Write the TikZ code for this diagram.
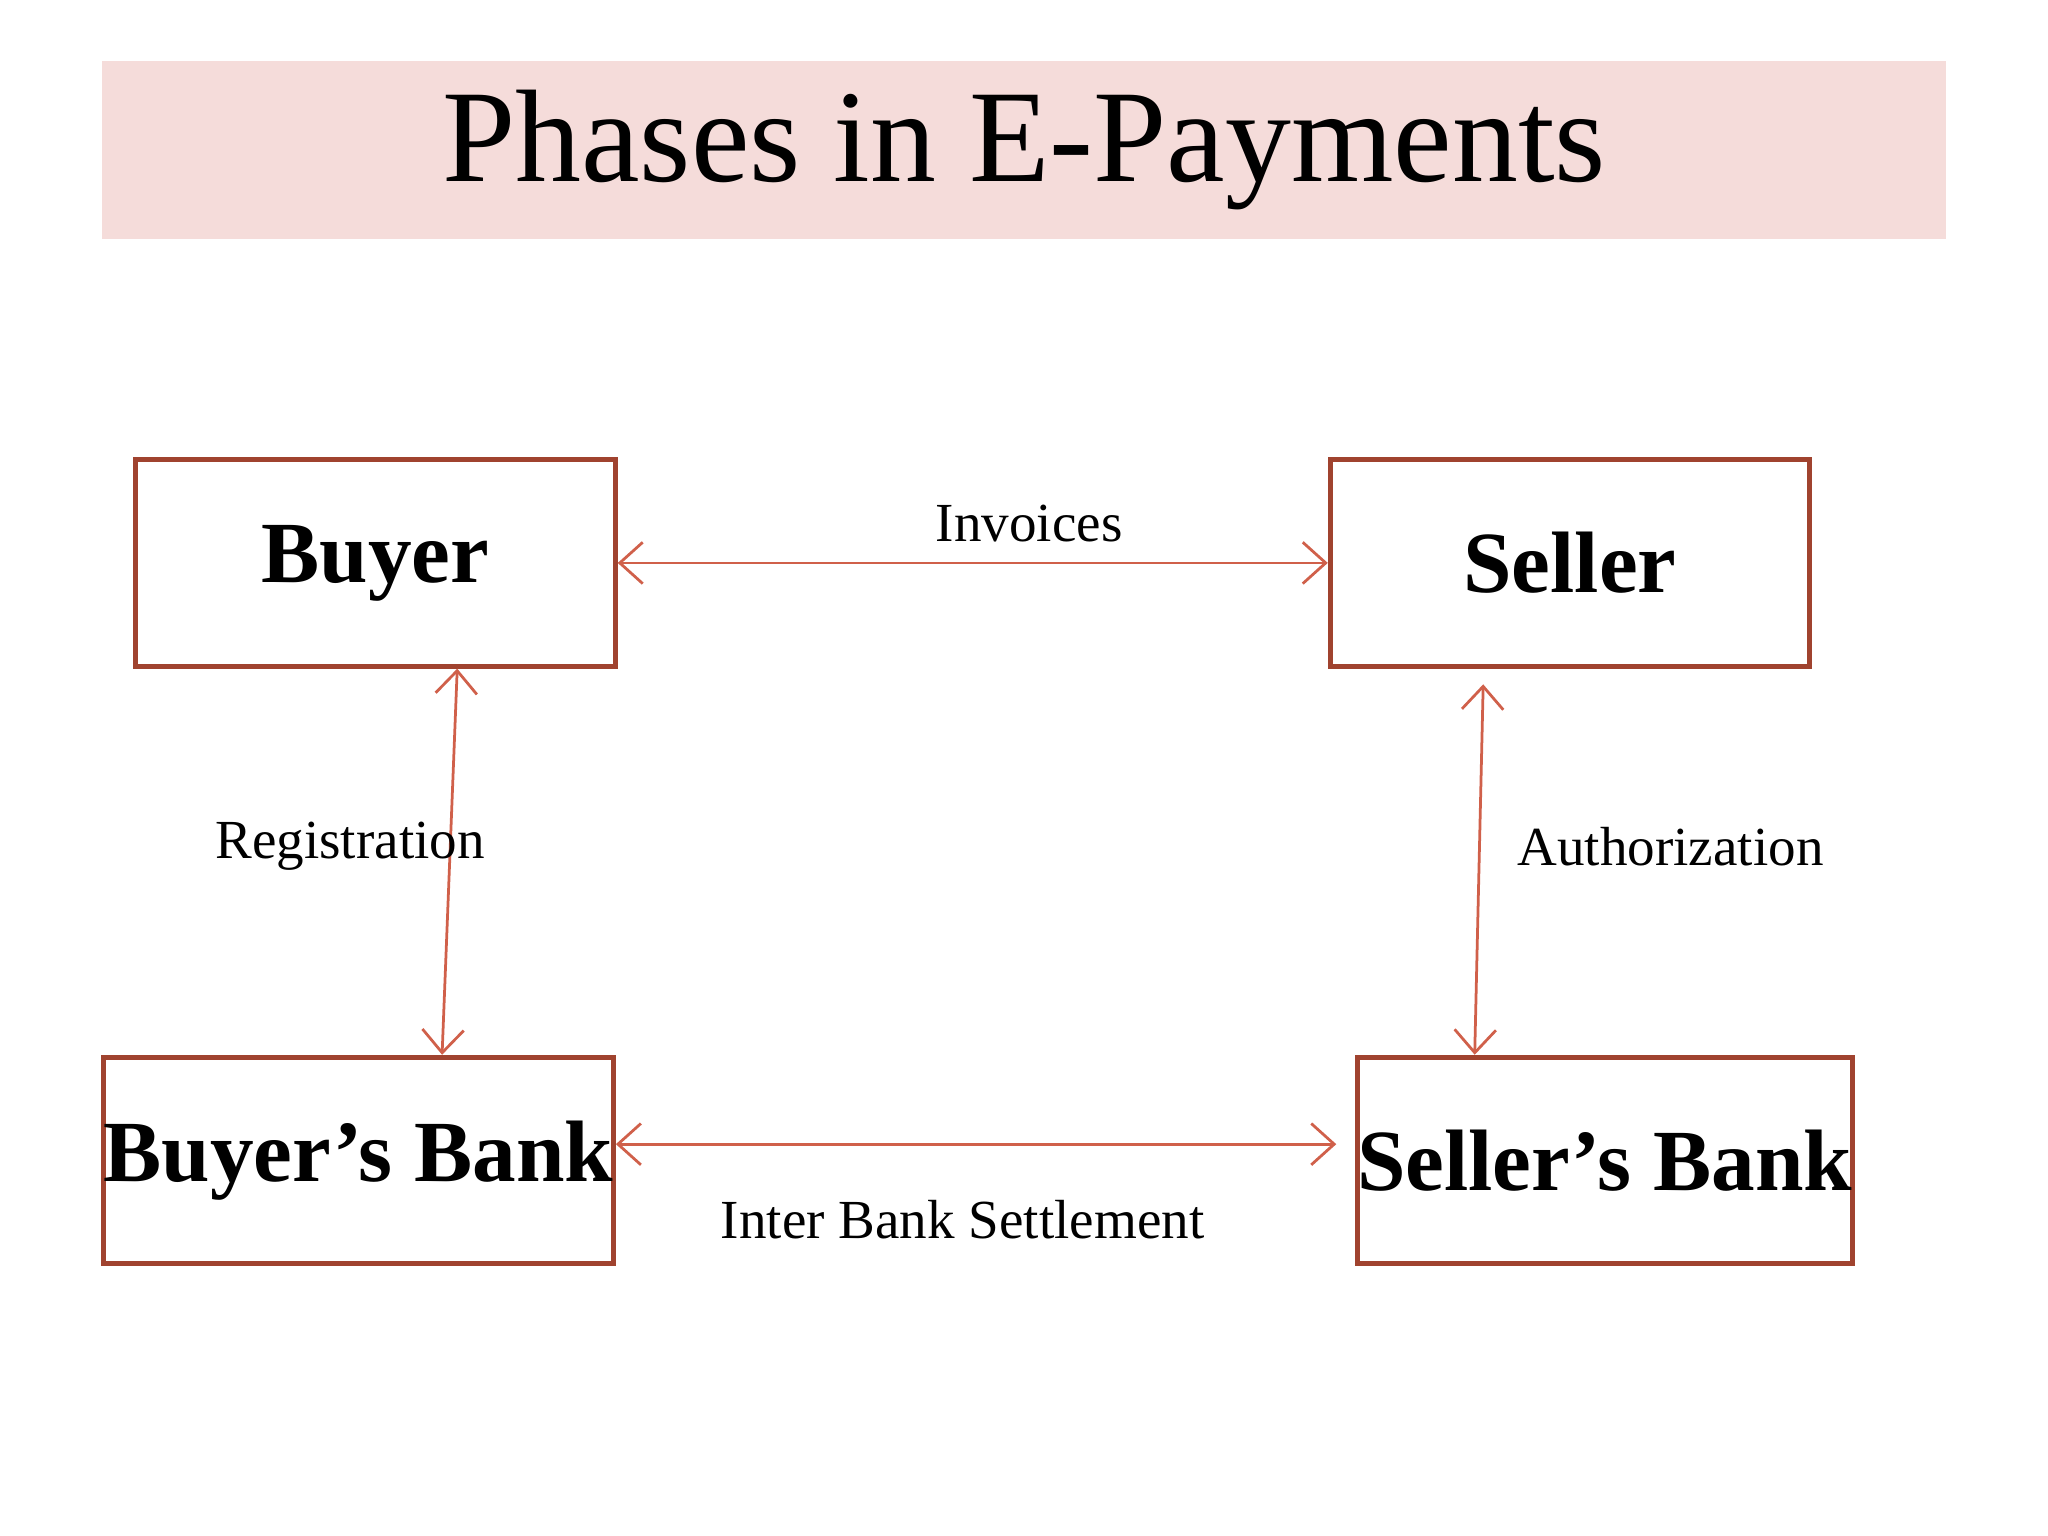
\documentclass[tikz,border=0pt]{standalone}
\usepackage{fontspec}
\setmainfont{Liberation Serif}
\usetikzlibrary{arrows.meta}
\definecolor{band}{HTML}{F5DCDA}
\definecolor{boxc}{HTML}{A0432F}
\definecolor{arrc}{HTML}{D0604A}
\tikzset{
 party/.style={draw=boxc,line width=1.1pt,fill=white,minimum width=3.67cm,minimum height=1.58cm,inner sep=0pt,font=\fontsize{19}{22}\selectfont\bfseries},
 link/.style={draw=arrc,line width=0.6pt,{Straight Barb[length=5pt,width=9pt]}-{Straight Barb[length=5pt,width=9pt]}},
 lbl/.style={font=\fontsize{12}{14}\selectfont,inner sep=0pt}
}
\begin{document}
\begin{tikzpicture}
\useasboundingbox (0,0) rectangle (15.68,-11.76);
\fill[white!98!black!2] (0,0) rectangle (15.68,-11.76);
\node[fill=band,minimum width=14.12cm,minimum height=1.36cm,inner sep=0pt,font=\fontsize{28.7}{32}\selectfont] (title) at (7.84,-1.15) {Phases in E-Payments};
\node[party] (buyer) at (2.875,-4.31) {Buyer};
\node[party] (seller) at (12.02,-4.31) {Seller};
\node[party] (bbank) at (2.745,-8.885) {Buyer’s Bank};
\node[party] (sbank) at (12.285,-8.885) {Seller’s Bank};
\draw[link] (buyer.east) -- (seller.west);
\draw[link] ([xshift=2.48cm]buyer.south west) -- ([xshift=2.61cm]bbank.north west);
\draw[link] ([xshift=1.19cm,yshift=-0.12cm]seller.south west) -- ([xshift=0.92cm]sbank.north west);
\draw[link] ([yshift=0.125cm]bbank.east) -- ([xshift=-0.14cm,yshift=0.125cm]sbank.west);
\node[lbl] (l1) at (7.88,-4.01) {Invoices};
\node[lbl] (l2) at (2.68,-6.48) {Registration};
\node[lbl] (l3) at (12.79,-6.48) {Authorization};
\node[lbl] (l4) at (7.37,-9.34) {Inter Bank Settlement};
\end{tikzpicture}
\end{document}
